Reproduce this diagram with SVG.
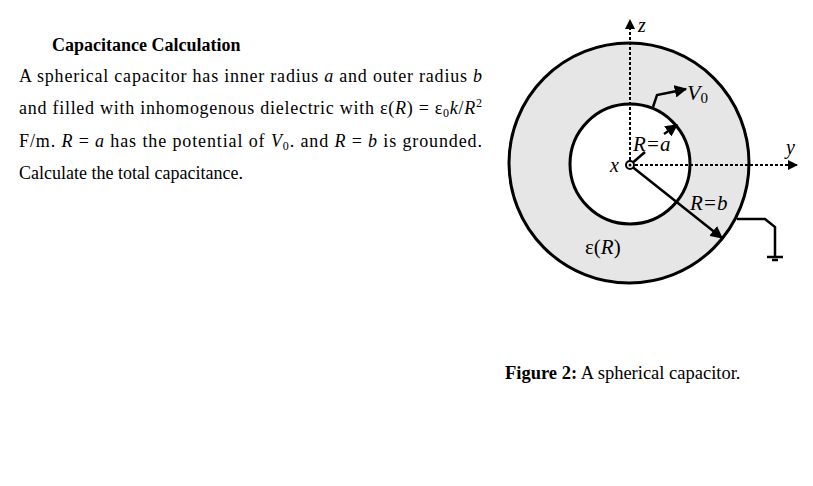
<svg xmlns="http://www.w3.org/2000/svg" width="813" height="486" viewBox="0 0 813 486">
<style>
text{font-family:"Liberation Serif","Times New Roman",serif;fill:#000}
.b{font-size:18px}
.i{font-style:italic}
.ln{stroke:#000;stroke-width:2.5;fill:none}
.d{stroke:#000;stroke-width:2;stroke-dasharray:3,2;fill:none}
</style>
<defs>
<marker id="ar" viewBox="0 0 10 10" refX="9" refY="5" markerWidth="5" markerHeight="5" orient="auto"><path d="M0,0L10,5L0,10z" fill="#000"/></marker>
</defs>
<rect width="813" height="486" fill="#fff"/>
<g id="text">
<text x="52" y="51" class="b" font-weight="bold">Capacitance Calculation</text>
<text x="19" y="82" class="b" textLength="463" lengthAdjust="spacing">A spherical capacitor has inner radius <tspan class="i">a</tspan> and outer radius <tspan class="i">b</tspan></text>
<text x="19" y="114" class="b" textLength="463" lengthAdjust="spacing">and filled with inhomogenous dielectric with ε(<tspan class="i">R</tspan>) = ε<tspan font-size="12" dy="3">0</tspan><tspan dy="-3" class="i">k</tspan>/<tspan class="i">R</tspan><tspan font-size="12" dy="-7">2</tspan></text>
<text x="19" y="147" class="b" textLength="463" lengthAdjust="spacing">F/m. <tspan class="i">R</tspan> = <tspan class="i">a</tspan> has the potential of <tspan class="i">V</tspan><tspan font-size="12" dy="3">0</tspan><tspan dy="-3">. and </tspan><tspan class="i">R</tspan> = <tspan class="i">b</tspan> is grounded.</text>
<text x="19" y="179" class="b">Calculate the total capacitance.</text>
</g>
<g id="outer"><circle cx="629" cy="163" r="120" fill="#e6e6e6" stroke="#000" stroke-width="3"/></g>
<g id="inner"><circle cx="630" cy="164" r="60" fill="#fff" stroke="#000" stroke-width="3"/></g>
<g id="connectors">
<line x1="630" y1="165" x2="630" y2="20" class="d" marker-end="url(#ar)"/>
<line x1="630" y1="165" x2="797" y2="165" class="d" marker-end="url(#ar)"/>
<polyline points="653,107 657,95 672,92 686,89" class="ln" stroke-width="2" marker-end="url(#ar)"/>
<line x1="630" y1="165" x2="645" y2="152" class="ln" stroke-width="1.5"/>
<line x1="664" y1="134" x2="677" y2="125" class="ln" stroke-width="1.5" marker-end="url(#ar)"/>
<line x1="630" y1="165" x2="722" y2="238" class="ln" stroke-width="2" marker-end="url(#ar)"/>
<polyline points="737,219 765,219 775,227 775,257" class="ln" stroke-width="2.5"/>
<line x1="767" y1="257" x2="783" y2="257" class="ln" stroke-width="2.5"/>
<line x1="772" y1="260" x2="778" y2="260" class="ln" stroke-width="2"/>
<circle cx="630" cy="165" r="4" fill="#fff" stroke="#000" stroke-width="2"/>
<circle cx="630" cy="165" r="1.5" fill="#000"/>
</g>
<g id="labels">
<text x="638" y="32" font-size="20" class="i">z</text>
<text x="687" y="100" font-size="22" class="i">V<tspan font-size="15" dy="3" font-style="normal">0</tspan></text>
<text x="633" y="151" font-size="21" class="i">R=a</text>
<text x="610" y="172" font-size="20" class="i">x</text>
<text x="786" y="154" font-size="20" class="i">y</text>
<text x="690" y="210" font-size="21" class="i">R=b</text>
<text x="585" y="254" font-size="21">ε(<tspan class="i">R</tspan>)</text>
</g>
<text x="505" y="379" font-size="18.5"><tspan font-weight="bold">Figure 2:</tspan> A spherical capacitor.</text>
</svg>
